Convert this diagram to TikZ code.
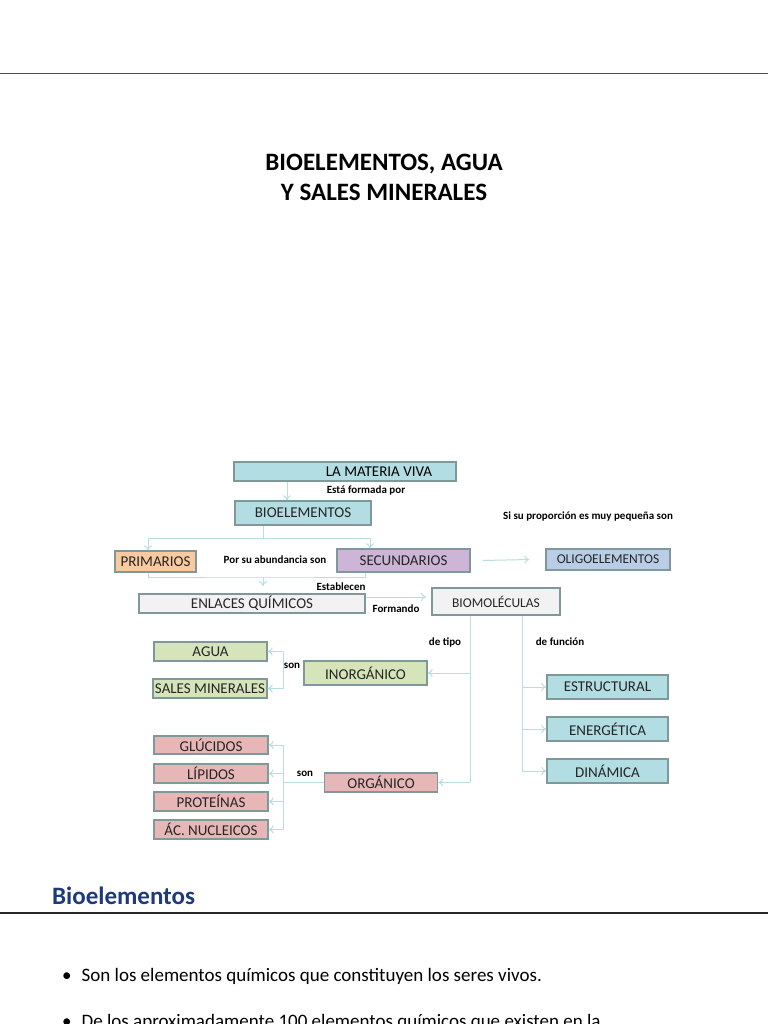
\documentclass[tikz,border=0pt]{standalone}
\usepackage{fontspec}
\setmainfont{Carlito}
\usetikzlibrary{arrows.meta}
\definecolor{edge}{HTML}{7F999B}
\definecolor{conn}{HTML}{B9DDE2}
\definecolor{teal}{HTML}{B2DDE3}
\definecolor{peach}{HTML}{F9C9A0}
\definecolor{lilac}{HTML}{CDB5D8}
\definecolor{blu}{HTML}{B9CDE6}
\definecolor{grey}{HTML}{F2F2F2}
\definecolor{grn}{HTML}{D6E4BA}
\definecolor{pink}{HTML}{E7B7B8}
\definecolor{navy}{HTML}{1F3A7A}
\begin{document}
\begin{tikzpicture}[x=1pt,y=-1pt,
  box/.style={draw=edge,line width=1.4pt,inner sep=0pt,font=\fontsize{15}{16}\selectfont,text=black!85},
  lbl/.style={font=\bfseries\fontsize{11}{12}\selectfont,inner sep=0pt},
  cn/.style={draw=conn,line width=1pt},
  ar/.style={cn,-{To[length=5pt,width=8pt]}}]
\useasboundingbox[fill=white] (0,0) rectangle (768,1024);
\draw[black!70,line width=0.8pt] (0,73) -- (768,73);
\node[font=\bfseries\fontsize{25}{30}\selectfont,align=center] (title) at (384,177) {BIOELEMENTOS, AGUA\\Y SALES MINERALES};
% boxes
\node[box,fill=teal,minimum width=222pt,minimum height=19pt,label={[xshift=34pt,font=\fontsize{15}{16}\selectfont]center:LA MATERIA VIVA}] (mv) at (345,471.5) {};
\node[box,fill=teal,minimum width=136pt,minimum height=24pt] (bio) at (303,513) {BIOELEMENTOS};
\node[box,fill=peach,minimum width=81pt,minimum height=21pt] (pri) at (155.5,561.5) {PRIMARIOS};
\node[box,fill=lilac,minimum width=133pt,minimum height=23pt] (sec) at (403.5,560.5) {SECUNDARIOS};
\node[box,fill=blu,minimum width=124pt,minimum height=21pt,font=\fontsize{13.5}{14}\selectfont] (oli) at (608,559.5) {OLIGOELEMENTOS};
\node[box,fill=grey,minimum width=226pt,minimum height=19pt] (enl) at (252,603.5) {ENLACES QUÍMICOS};
\node[box,fill=grey,minimum width=128pt,minimum height=27pt,font=\fontsize{13.5}{14}\selectfont] (bm) at (496,601.5) {BIOMOLÉCULAS};
\node[box,fill=grn,minimum width=113pt,minimum height=19pt] (agua) at (210.5,651.5) {AGUA};
\node[box,fill=grn,minimum width=114pt,minimum height=19pt] (sal) at (210,688.5) {SALES MINERALES};
\node[box,fill=grn,minimum width=123pt,minimum height=24pt] (ino) at (365.5,673) {INORGÁNICO};
\node[box,fill=pink,minimum width=114pt,minimum height=18pt] (glu) at (211,745) {GLÚCIDOS};
\node[box,fill=pink,minimum width=114pt,minimum height=19pt] (lip) at (211,773.5) {LÍPIDOS};
\node[box,fill=pink,minimum width=114pt,minimum height=19pt] (pro) at (211,801.5) {PROTEÍNAS};
\node[box,fill=pink,minimum width=114pt,minimum height=19pt] (acn) at (211,829.5) {ÁC. NUCLEICOS};
\node[box,fill=pink,minimum width=113pt,minimum height=19pt] (org) at (381,782.5) {ORGÁNICO};
\node[box,fill=teal,minimum width=121pt,minimum height=24pt] (est) at (607.5,687) {ESTRUCTURAL};
\node[box,fill=teal,minimum width=121pt,minimum height=24pt] (ene) at (607.5,729) {ENERGÉTICA};
\node[box,fill=teal,minimum width=121pt,minimum height=24pt] (din) at (607.5,771) {DINÁMICA};
% labels
\node[lbl] (l1) at (366,491) {Está formada por};
\node[lbl] (l2) at (588,517) {Si su proporción es muy pequeña son};
\node[lbl] (l3) at (275,560) {Por su abundancia son};
\node[lbl] (l4) at (341,587) {Establecen};
\node[lbl] (l5) at (396,609) {Formando};
\node[lbl] (l6) at (445,642) {de tipo};
\node[lbl] (l7) at (560,642) {de función};
\node[lbl] (l8) at (292,666) {son};
\node[lbl] (l9) at (305,774) {son};
% connectors
\coordinate (c1) at (263,538);
\coordinate (c2) at (263,577);
\coordinate (xl) at (470,0);
\coordinate (xr) at (522,0);
\coordinate (xi) at (283,0);
\draw[ar] (mv.south -| 287,0) -- (bio.north -| 287,0);
\draw[cn] (bio.south -| c1) -- (c1);
\draw[ar] (c1) -| (pri.north -| 148,0);
\draw[ar] (c1) -| (sec.north -| 370,0);
\draw[cn] (pri.south -| 148,0) |- (c2) -| (sec.south -| 365,0);
\draw[ar] (c2) -- (263,586);
\draw[ar] (sec.east) ++(12,0) -- ([xshift=-16pt]oli.west);
\draw[ar] (enl.east |- 0,597) -- (426,597);
\draw[cn] (bm.south -| xl) -- (xl |- org.east);
\draw[ar] (xl |- ino.east) -- (ino.east);
\draw[ar] (xl |- org.east) -- (org.east);
\draw[cn] (bm.south -| xr) -- (xr |- din.west);
\draw[ar] (xr |- est.west) -- (est.west);
\draw[ar] (xr |- ene.west) -- (ene.west);
\draw[ar] (xr |- din.west) -- (din.west);
\draw[cn] (xi |- agua.east) -- (xi |- sal.east);
\draw[ar] (xi |- agua.east) -- (agua.east);
\draw[ar] (xi |- sal.east) -- (sal.east);
\draw[cn] (org.west) -- (xi |- org.west);
\draw[cn] (xi |- glu.east) -- (xi |- acn.east);
\draw[ar] (xi |- glu.east) -- (glu.east);
\draw[ar] (xi |- lip.east) -- (lip.east);
\draw[ar] (xi |- pro.east) -- (pro.east);
\draw[ar] (xi |- acn.east) -- (acn.east);
% bottom section
\node[anchor=west,font=\bfseries\fontsize{25}{27}\selectfont,text=navy,inner sep=0pt] (bh) at (52,896) {Bioelementos};
\draw[black!85,line width=2pt] (0,913) -- (768,913);
\node[anchor=west,font=\fontsize{19}{22}\selectfont,inner sep=0pt] (b1) at (62,976) {•\hspace{10pt}Son los elementos químicos que constituyen los seres vivos.};
\node[anchor=west,font=\fontsize{19}{22}\selectfont,inner sep=0pt] (b2) at (62,1022) {•\hspace{10pt}De los aproximadamente 100 elementos químicos que existen en la};
\end{tikzpicture}
\end{document}
